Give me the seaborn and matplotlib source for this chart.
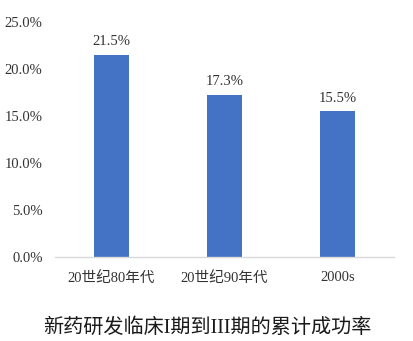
import matplotlib
matplotlib.use("Agg")
import matplotlib.pyplot as plt
import seaborn as sns
import pandas as pd
from matplotlib.ticker import FuncFormatter

categories = ["20世纪80年代", "20世纪90年代", "2000s"]
values = [21.5, 17.3, 15.5]
yticks = [0, 5, 10, 15, 20, 25]
title = "新药研发临床I期到III期的累计成功率"

sns.set_theme(style="white")
plt.rcParams['font.family'] = ['Liberation Serif', 'Noto Sans CJK SC', 'DejaVu Sans']

df = pd.DataFrame({"cat": categories, "val": values})

fig = plt.figure(figsize=(4.14, 3.41), dpi=100)
ax = fig.add_axes([0.133, 0.246, 0.819, 0.689])
sns.barplot(data=df, x="cat", y="val", color="#4472C4", width=0.31, ax=ax,
            saturation=1, edgecolor="none")
ax.set_xlim(-0.5, 2.5)
ax.set_ylim(0, 25)
ax.set_yticks(yticks)
ax.yaxis.set_major_formatter(FuncFormatter(lambda v, p: f"{v:.1f}%"))
ax.set_xlabel("")
ax.set_ylabel("")
for s in ["top", "right", "left"]:
    ax.spines[s].set_visible(False)
ax.spines["bottom"].set_color("#d9d9d9")
ax.spines["bottom"].set_linewidth(1)
ax.tick_params(axis="both", length=0, colors="#333333", labelsize=10.5)
ax.tick_params(axis="y", pad=9)
ax.tick_params(axis="x", pad=10)
for c in ax.containers:
    ax.bar_label(c, labels=[f"{v:.1f}%" for v in values], padding=5,
                 fontsize=10.5, color="#333333")

fig.text(0.5, 0.038, title, ha="center", va="center", fontsize=14.5,
         color="#1a1a1a", family=['Liberation Serif', 'Noto Sans CJK SC', 'DejaVu Sans'])
fig.savefig("out.png", dpi=100, facecolor="white")
